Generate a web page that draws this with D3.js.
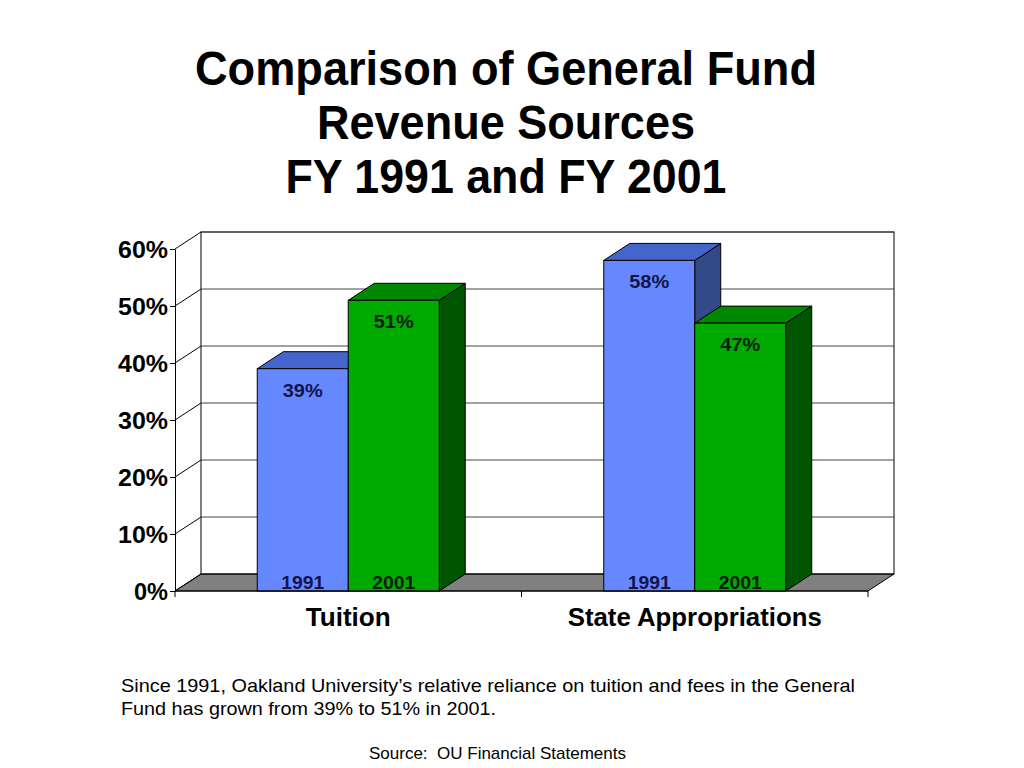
<!DOCTYPE html>
<html>
<head>
<meta charset="utf-8">
<script src="https://cdn.jsdelivr.net/npm/d3@7"></script>
<style>
  body { margin: 0; background: #fff; }
  svg { display: block; font-family: "Liberation Sans", Arial, sans-serif; }
</style>
</head>
<body>
<div id="chart"></div>
<script>
// data
const categories = ["Tuition", "State Appropriations"];
const years = ["1991", "2001"];
const values1991 = [0.39, 0.58];
const values2001 = [0.51, 0.47];
const yTicks = [0, 0.1, 0.2, 0.3, 0.4, 0.5, 0.6];
const titleLines = ["Comparison of General Fund", "Revenue Sources", "FY 1991 and FY 2001"];
const noteLines = [
  "Since 1991, Oakland University\u2019s relative reliance on tuition and fees in the General",
  "Fund has grown from 39% to 51% in 2001."
];
const sourceText = "Source:  OU Financial Statements";

const width = 1024, height = 768;
const plot = { left: 175, right: 868, top: 249, bottom: 591 };
const depth = { dx: 26, dy: -17 };

const colors = {
  "1991": { front: "#6688ff", top: "#4466cc", side: "#334a88", label: "#14144a" },
  "2001": { front: "#00aa00", top: "#008800", side: "#005500", label: "#002200" }
};

const svg = d3.select("#chart").append("svg")
  .attr("width", width)
  .attr("height", height);

// titel - smal skrift i originalen, så den presses sammen
svg.append("g").selectAll("text")
  .data(titleLines)
  .enter().append("text")
  .attr("x", 506)
  .attr("y", (d, i) => 85 + i * 54)
  .attr("text-anchor", "middle")
  .attr("font-size", "48px")
  .attr("font-weight", "bold")
  .attr("textLength", (d, i) => [622, 378, 441][i])
  .attr("lengthAdjust", "spacingAndGlyphs")
  .text(d => d);

const y = d3.scaleLinear().domain([0, 0.6]).range([plot.bottom, plot.top]);
const x = d3.scaleBand().domain(categories).range([plot.left, plot.right]);
const xs = d3.scaleBand().domain(years).range([0, x.bandwidth()])
  .paddingInner(0).paddingOuter(0.904);

const g = svg.append("g");

// floor
const floor = [
  [plot.left, plot.bottom], [plot.right, plot.bottom],
  [plot.right + depth.dx, plot.bottom + depth.dy], [plot.left + depth.dx, plot.bottom + depth.dy]
];
g.append("polygon")
  .attr("points", floor.join(" "))
  .attr("fill", "#808080")
  .attr("stroke", "#000")
  .attr("stroke-width", 1);

// back wall + grid
g.append("rect")
  .attr("x", plot.left + depth.dx)
  .attr("y", y(0.6) + depth.dy)
  .attr("width", plot.right - plot.left)
  .attr("height", y(0) - y(0.6))
  .attr("fill", "none")
  .attr("stroke", "#000");

g.selectAll(".grid")
  .data(yTicks.filter(t => t > 0))
  .enter().append("line")
  .attr("class", "grid")
  .attr("x1", plot.left + depth.dx)
  .attr("x2", plot.right + depth.dx)
  .attr("y1", d => y(d) + depth.dy)
  .attr("y2", d => y(d) + depth.dy)
  .attr("stroke", "#444");

// side wall diagonals
g.selectAll(".diag")
  .data(yTicks)
  .enter().append("line")
  .attr("class", "diag")
  .attr("x1", plot.left)
  .attr("x2", plot.left + depth.dx)
  .attr("y1", d => y(d))
  .attr("y2", d => y(d) + depth.dy)
  .attr("stroke", "#000");

// y axis
const yAxis = g.append("g")
  .attr("transform", "translate(" + plot.left + ",0)")
  .call(d3.axisLeft(y).tickValues(yTicks).tickFormat(d3.format(".0%")).tickSize(5).tickSizeOuter(0));
yAxis.select(".domain").attr("stroke", "#000");
yAxis.selectAll("text")
  .attr("font-size", "23px")
  .attr("font-weight", "bold")
  .attr("font-family", "'Liberation Sans', Arial, sans-serif")
  .attr("fill", "#000")
  .attr("dy", "0.36em")
  .attr("x", -7)
  .attr("textLength", d => d === 0 ? 34 : 50)
  .attr("lengthAdjust", "spacingAndGlyphs");

// bars
const bars = [];
categories.forEach((c, i) => {
  bars.push({ cat: c, year: "1991", value: values1991[i] });
  bars.push({ cat: c, year: "2001", value: values2001[i] });
});

bars.forEach(d => {
  const x0 = x(d.cat) + xs(d.year);
  const x1 = x0 + xs.bandwidth();
  const yt = y(d.value);
  const yb = y(0);
  const col = colors[d.year];
  const bg = g.append("g");

  bg.append("polygon")
    .attr("points", [[x1, yt], [x1 + depth.dx, yt + depth.dy], [x1 + depth.dx, yb + depth.dy], [x1, yb]].join(" "))
    .attr("fill", col.side).attr("stroke", "#000").attr("stroke-width", 1);
  bg.append("polygon")
    .attr("points", [[x0, yt], [x0 + depth.dx, yt + depth.dy], [x1 + depth.dx, yt + depth.dy], [x1, yt]].join(" "))
    .attr("fill", col.top).attr("stroke", "#000").attr("stroke-width", 1);
  bg.append("rect")
    .attr("x", x0).attr("y", yt)
    .attr("width", x1 - x0).attr("height", yb - yt)
    .attr("fill", col.front).attr("stroke", "#000").attr("stroke-width", 1);

  bg.append("text")
    .attr("x", (x0 + x1) / 2)
    .attr("y", yt + 28)
    .attr("text-anchor", "middle")
    .attr("font-size", "19px")
    .attr("font-weight", "bold")
    .attr("fill", col.label)
    .attr("textLength", 40)
    .attr("lengthAdjust", "spacingAndGlyphs")
    .text(d3.format(".0%")(d.value));

  bg.append("text")
    .attr("x", (x0 + x1) / 2)
    .attr("y", yb - 2)
    .attr("text-anchor", "middle")
    .attr("font-size", "18px")
    .attr("font-weight", "bold")
    .attr("fill", d.year === "1991" ? "#14144a" : "#001a00")
    .attr("textLength", 43)
    .attr("lengthAdjust", "spacingAndGlyphs")
    .text(d.year);
});

// x axis
const xAxis = g.append("g")
  .attr("transform", "translate(0," + plot.bottom + ")");
xAxis.append("line")
  .attr("x1", plot.left).attr("x2", plot.right)
  .attr("stroke", "#000");
xAxis.selectAll(".tick")
  .data([plot.left].concat(categories.map(c => x(c) + x.bandwidth())))
  .enter().append("line")
  .attr("x1", d => d).attr("x2", d => d)
  .attr("y1", 0).attr("y2", 6)
  .attr("stroke", "#000");
xAxis.selectAll(".cat")
  .data(categories)
  .enter().append("text")
  .attr("x", d => x(d) + x.bandwidth() / 2)
  .attr("y", 35)
  .attr("text-anchor", "middle")
  .attr("font-size", "25px")
  .attr("font-weight", "bold")
  .attr("textLength", (d, i) => [85, 254][i])
  .attr("lengthAdjust", "spacingAndGlyphs")
  .text(d => d);

// note under the chart
svg.append("g").selectAll("text")
  .data(noteLines)
  .enter().append("text")
  .attr("x", 121)
  .attr("y", (d, i) => 692 + i * 23)
  .attr("font-size", "19px")
  .attr("textLength", (d, i) => [734, 375][i])
  .attr("lengthAdjust", "spacingAndGlyphs")
  .text(d => d);

svg.append("text")
  .attr("x", 369)
  .attr("y", 759)
  .attr("font-size", "17px")
  .style("white-space", "pre")
  .attr("textLength", 257)
  .attr("lengthAdjust", "spacingAndGlyphs")
  .text(sourceText);
</script>
</body>
</html>
